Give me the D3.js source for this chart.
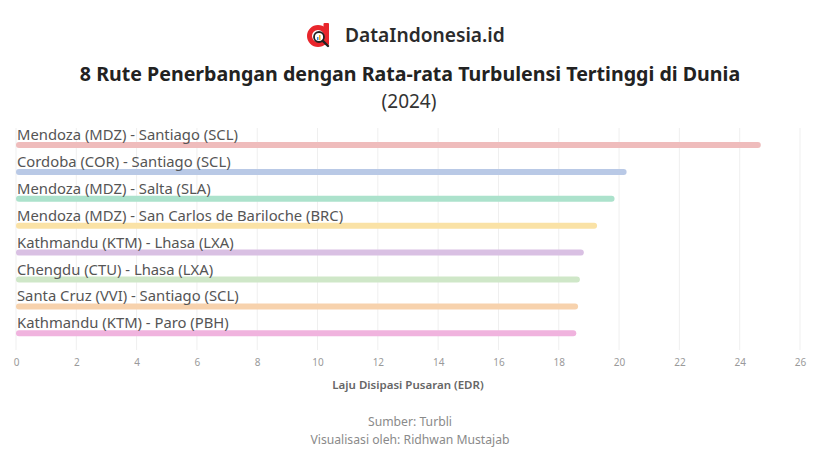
<!DOCTYPE html>
<html>
<head>
<meta charset="utf-8">
<script src="https://cdn.jsdelivr.net/npm/d3@7"></script>
<style>
  html, body { margin: 0; padding: 0; background: #fff; }
  svg { display: block; font-family: "Noto Sans", "Open Sans", sans-serif; }
</style>
</head>
<body>
<svg id="chart" width="820" height="460"></svg>
<script>
// ---- data ----
const routes = [
  "Mendoza (MDZ) - Santiago (SCL)",
  "Cordoba (COR) - Santiago (SCL)",
  "Mendoza (MDZ) - Salta (SLA)",
  "Mendoza (MDZ) - San Carlos de Bariloche (BRC)",
  "Kathmandu (KTM) - Lhasa (LXA)",
  "Chengdu (CTU) - Lhasa (LXA)",
  "Santa Cruz (VVI) - Santiago (SCL)",
  "Kathmandu (KTM) - Paro (PBH)"
];
const edrValues = [24.7, 20.25, 19.85, 19.27, 18.83, 18.7, 18.64, 18.58];
const barColors = ["#efbcbc", "#b9c9e6", "#ace2cc", "#fae2a6", "#d9c0e3", "#cfe7c8", "#f7d2ad", "#f0b3de"];
const tickValues = [0, 2, 4, 6, 8, 10, 12, 14, 16, 18, 20, 22, 24, 26];
const titleText = "8 Rute Penerbangan dengan Rata-rata Turbulensi Tertinggi di Dunia";
const subtitleText = "(2024)";
const axisTitle = "Laju Disipasi Pusaran (EDR)";
const sourceLines = ["Sumber: Turbli", "Visualisasi oleh: Ridhwan Mustajab"];

const svg = d3.select("#chart");

// ---- header / logo ----
const logo = svg.append("g").attr("transform", "translate(308,22)");
logo.append("circle").attr("cx", 10).attr("cy", 14).attr("r", 8.5)
  .attr("fill", "none").attr("stroke", "#e8262c").attr("stroke-width", 5);
logo.append("rect").attr("x", 15.5).attr("y", 1).attr("width", 5.5).attr("height", 22)
  .attr("rx", 1).attr("fill", "#e8262c");
logo.append("circle").attr("cx", 11).attr("cy", 15).attr("r", 5)
  .attr("fill", "#fff").attr("stroke", "#222").attr("stroke-width", 1.8);
logo.append("rect").attr("x", 9).attr("y", 15).attr("width", 1.5).attr("height", 3).attr("fill", "#3a8de0");
logo.append("rect").attr("x", 11).attr("y", 13).attr("width", 1.5).attr("height", 5).attr("fill", "#f2b01e");
logo.append("line").attr("x1", 14.8).attr("y1", 18.8).attr("x2", 20).attr("y2", 24)
  .attr("stroke", "#222").attr("stroke-width", 2.4).attr("stroke-linecap", "round");

svg.append("text").attr("x", 345).attr("y", 42)
  .attr("font-size", 19.2).attr("font-weight", 600).attr("fill", "#2b2b2b")
  .text("DataIndonesia.id");

svg.append("text").attr("x", 410).attr("y", 81).attr("text-anchor", "middle")
  .attr("font-size", 19.6).attr("font-weight", 700).attr("fill", "#222")
  .text(titleText);
svg.append("text").attr("x", 409).attr("y", 108).attr("text-anchor", "middle")
  .attr("font-size", 19).attr("fill", "#333")
  .text(subtitleText);

// ---- scales ----
const x = d3.scaleLinear().domain([0, 26]).range([16, 800]);
const y = d3.scalePoint().domain(routes).range([145, 333.3]);

// gridlines
svg.append("g").selectAll("line").data(tickValues).join("line")
  .attr("x1", d => x(d)).attr("x2", d => x(d))
  .attr("y1", 128).attr("y2", 350)
  .attr("stroke", "#efefef").attr("stroke-width", 1);

// axis
const axis = svg.append("g").attr("transform", "translate(0,350)")
  .call(d3.axisBottom(x).tickValues(tickValues).tickSize(0).tickPadding(9).tickFormat(d3.format("d")));
axis.select(".domain").remove();
axis.selectAll("text").attr("fill", "#9a9a9a").attr("font-size", 10)
  .attr("font-family", "'Noto Sans', sans-serif");

svg.append("text").attr("x", 408).attr("y", 389).attr("text-anchor", "middle")
  .attr("font-size", 11.5).attr("font-weight", 600).attr("fill", "#666")
  .text(axisTitle);

// bars
const data = routes.map((r, i) => ({ route: r, value: edrValues[i], color: barColors[i] }));
svg.append("g").selectAll("line").data(data).join("line")
  .attr("x1", x(0) + 3).attr("x2", d => x(d.value) - 3)
  .attr("y1", d => y(d.route)).attr("y2", d => y(d.route))
  .attr("stroke", d => d.color).attr("stroke-width", 6).attr("stroke-linecap", "round");

// labels
svg.append("g").selectAll("text").data(data).join("text")
  .attr("x", 17).attr("y", d => y(d.route) - 5)
  .attr("font-size", 14.8).attr("fill", "#555")
  .text(d => d.route);

// source
svg.append("g").selectAll("text").data(sourceLines).join("text")
  .attr("x", 410).attr("y", (d, i) => 426 + i * 18).attr("text-anchor", "middle")
  .attr("font-size", 12.2).attr("fill", "#8a8a8a")
  .text(d => d);
</script>
</body>
</html>
